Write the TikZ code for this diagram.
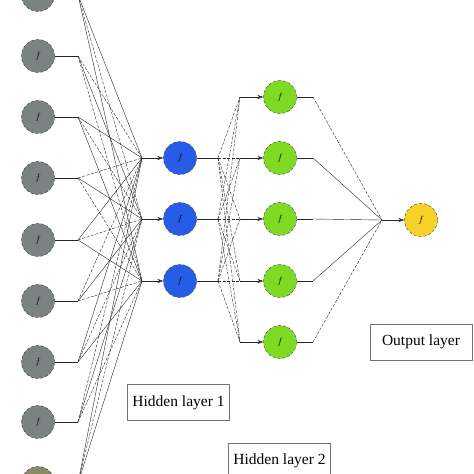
\documentclass[tikz,border=0pt]{standalone}
\usepackage{fontspec}
\setmainfont{Liberation Serif}
\usetikzlibrary{arrows.meta}

\definecolor{ingray}{RGB}{122,130,130}
\definecolor{inolive}{RGB}{140,138,100}
\definecolor{hidblue}{RGB}{38,92,232}
\definecolor{hidgreen}{RGB}{128,218,36}
\definecolor{outyellow}{RGB}{246,210,40}

\begin{document}
\begin{tikzpicture}[
  x=1pt, y=-1pt,
  neuron/.style={circle, minimum size=33pt, inner sep=0pt, draw=black!75, densely dashed, thin, font=\fontsize{9}{9}\selectfont},
  inbox/.style={neuron, fill=ingray},
  hidAbox/.style={neuron, fill=hidblue},
  hidBbox/.style={neuron, fill=hidgreen},
  outbox/.style={neuron, fill=outyellow},
  labelbox/.style={rectangle, draw=black!55, thin, minimum width=102pt, minimum height=36pt, font=\fontsize{15.5}{17}\selectfont},
  stub/.style={thin, black!85},
  link/.style={thin, black!85, rounded corners=6pt},
  dlink/.style={link, dashed, dash pattern=on 3pt off 1.5pt},
  arr/.style={thin, black!85, -{Stealth[length=6pt, width=4pt]}}
]
\clip (0,0) rectangle (474,474);

% input layer
\foreach \i/\y in {1/-5, 2/56, 3/117, 4/178, 5/240, 6/301, 7/362, 8/422}{
  \node (in\i) [inbox] at (38,\y) {$f$};
  \coordinate (inj\i) at (78,\y);
}
\node (in9) [inbox, fill=inolive] at (38,483) {$f$};
\coordinate (inj9) at (78,483);

% hidden layer 1
\node (hA1) [hidAbox] at (180,158) {$f$};
\node (hA2) [hidAbox] at (180,219) {$f$};
\node (hA3) [hidAbox] at (180,281) {$f$};
\foreach \j in {1,2,3}{
  \coordinate (hAin\j) at (142,0 |- hA\j);
  \coordinate (hAout\j) at (218,0 |- hA\j);
}

% hidden layer 2
\node (hB1) [hidBbox] at (280,97) {$f$};
\node (hB2) [hidBbox] at (280,158) {$f$};
\node (hB3) [hidBbox] at (280,219) {$f$};
\node (hB4) [hidBbox] at (280,281) {$f$};
\node (hB5) [hidBbox] at (280,342) {$f$};
\foreach \k in {1,...,5}{
  \coordinate (hBin\k) at (240,0 |- hB\k);
  \coordinate (hBout\k) at (313,0 |- hB\k);
}

% output layer
\node (out) [outbox] at (421,220) {$f$};
\coordinate (outin) at (382,220);

% labels
\node (lblA) [labelbox] at (178.5,402.5) {Hidden layer 1};
\node (lblB) [labelbox] at (279.5,461) {Hidden layer 2};
\node (lblout) [labelbox] at (421,342) {Output layer};

% input -> hidden 1
\foreach \i in {1,...,9} \draw [stub] (in\i.east) -- (inj\i);
\foreach \i in {1,...,9}{
  \foreach \j in {1,2,3}{
    \pgfmathtruncatemacro{\parity}{mod(\i+\j,2)}
    \ifnum\parity=0
      \draw [link] (inj\i) -- (hAin\j);
    \else
      \draw [dlink] (inj\i) -- (hAin\j);
    \fi
  }
}
\foreach \j in {1,2,3} \draw [arr] (hAin\j) -- (hA\j.west);

% hidden 1 -> hidden 2
\foreach \j in {1,2,3}{
  \draw [stub, semithick] (hA\j.east) -- (hAout\j);
  \foreach \k in {1,...,5} \draw [dlink] (hAout\j) -- (hBin\k);
}
\foreach \k in {1,...,5} \draw [arr] (hBin\k) -- (hB\k.west);

% hidden 2 -> output
\foreach \k in {1,...,5} \draw [stub] (hB\k.east) -- (hBout\k);
\draw [dlink] (hBout1) -- (outin);
\draw [link] (hBout2) -- (outin);
\draw [link] (hBout3) -- (outin);
\draw [link] (hBout4) -- (outin);
\draw [dlink] (hBout5) -- (outin);
\draw [arr] (outin) -- (out.west);

\end{tikzpicture}
\end{document}
